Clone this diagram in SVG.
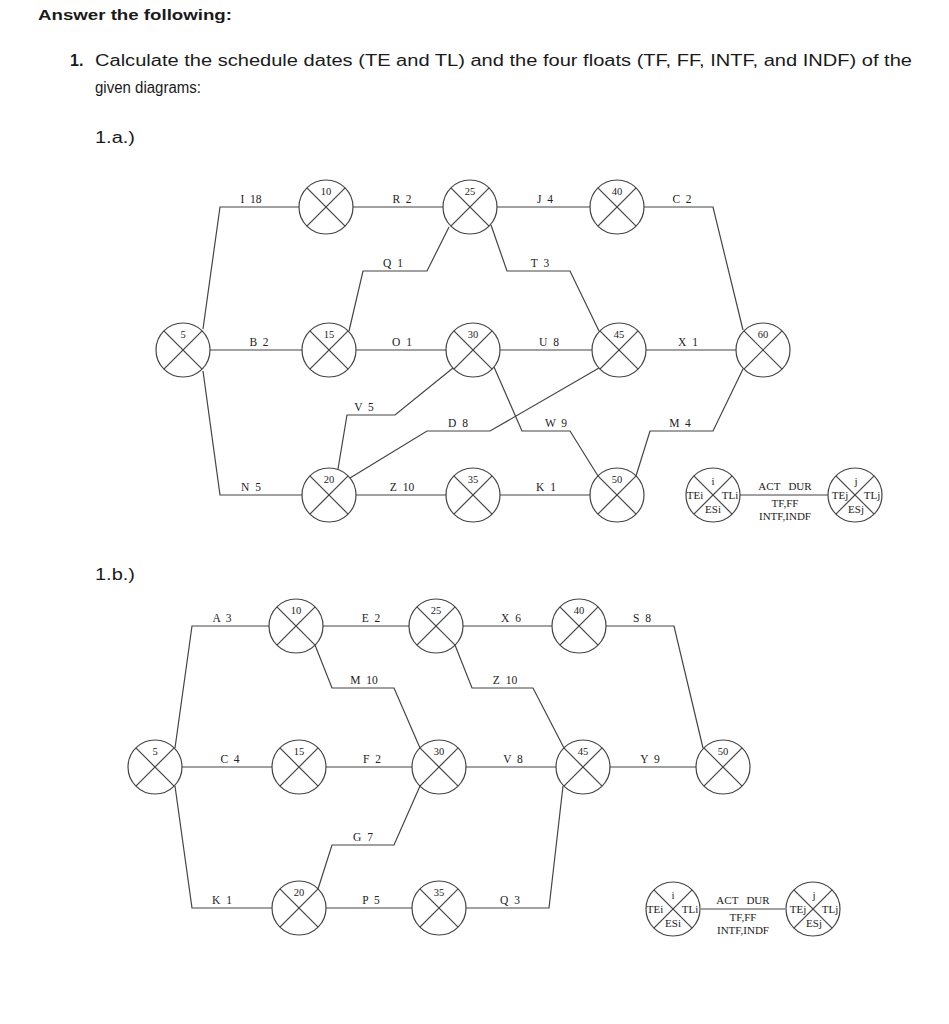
<svg xmlns="http://www.w3.org/2000/svg" xmlns:xlink="http://www.w3.org/1999/xlink" width="949" height="1024" viewBox="0 0 949 1024">
<style>
.hd{font-family:"Liberation Sans","Noto Sans",sans-serif;fill:#1a1a1a}
.hb{font-weight:bold}
.hn{font-size:16px}
.lb{font-family:"Liberation Serif","DejaVu Serif",serif;font-size:11.5px;fill:#222;text-anchor:middle;white-space:pre}
.nn{font-family:"Liberation Serif","DejaVu Serif",serif;font-size:10.5px;fill:#222;text-anchor:middle}
.lg{font-family:"Liberation Serif","DejaVu Serif",serif;font-size:11px;fill:#222;text-anchor:middle;white-space:pre}
.ed{fill:none;stroke:#444;stroke-width:1.2}
.nd circle,.nd line{fill:#fff;stroke:#444;stroke-width:1.2}
</style>
<defs>
<g id="node" class="nd"><circle r="27"/><line x1="-19.1" y1="-19.1" x2="19.1" y2="19.1"/><line x1="19.1" y1="-19.1" x2="-19.1" y2="19.1"/></g>
</defs>
<rect width="949" height="1024" fill="#fff"/>
<g id="header">
<text class="hd hb" x="38" y="20" font-size="15" textLength="194" lengthAdjust="spacingAndGlyphs">Answer the following:</text>
<text class="hd hb hn" x="70" y="66">1.</text>
<text class="hd hn" x="95" y="66" textLength="817" lengthAdjust="spacingAndGlyphs">Calculate the schedule dates (TE and TL) and the four floats (TF, FF, INTF, and INDF) of the</text>
<text class="hd hn" x="95" y="93" textLength="106" lengthAdjust="spacingAndGlyphs">given diagrams:</text>
<text class="hd hn" x="95" y="143" textLength="40" lengthAdjust="spacingAndGlyphs">1.a.)</text>
<text class="hd hn" x="95" y="580" textLength="40" lengthAdjust="spacingAndGlyphs">1.b.)</text>
</g>
<g id="connectors-a">
<path class="ed" d="M203 329 L220 207 L299 207"/>
<path class="ed" d="M353 207 L443 207"/>
<path class="ed" d="M497 207 L590 207"/>
<path class="ed" d="M644 207 L713 207 L743 330"/>
<path class="ed" d="M349 331 L363 271 L427 271 L449 227"/>
<path class="ed" d="M491 225 L507 271 L570 271 L599 331"/>
<path class="ed" d="M210 350 L302 350"/>
<path class="ed" d="M356 350 L446 350"/>
<path class="ed" d="M500 350 L592 350"/>
<path class="ed" d="M646 350 L736 350"/>
<path class="ed" d="M203 371 L220 495 L302 495"/>
<path class="ed" d="M356 495 L446 495"/>
<path class="ed" d="M500 495 L590 495"/>
<path class="ed" d="M338 469 L347 415 L395 415 L453 368"/>
<path class="ed" d="M350 478 L427 431 L490 431 L599 368"/>
<path class="ed" d="M494 367 L522 431 L570 431 L598 476"/>
<path class="ed" d="M636 476 L650 431 L713 431 L743 369"/>
<path class="ed" d="M740 495 L828 495"/>
<text class="lb" x="251" y="203">I  18</text>
<text class="lb" x="402" y="203">R  2</text>
<text class="lb" x="545" y="203">J  4</text>
<text class="lb" x="682" y="203">C  2</text>
<text class="lb" x="393" y="267">Q  1</text>
<text class="lb" x="540" y="267">T  3</text>
<text class="lb" x="259" y="346">B  2</text>
<text class="lb" x="402" y="346">O  1</text>
<text class="lb" x="549" y="346">U  8</text>
<text class="lb" x="688" y="346">X  1</text>
<text class="lb" x="364" y="411">V  5</text>
<text class="lb" x="458" y="427">D  8</text>
<text class="lb" x="556" y="427">W  9</text>
<text class="lb" x="680" y="427">M  4</text>
<text class="lb" x="251" y="491">N  5</text>
<text class="lb" x="402" y="491">Z  10</text>
<text class="lb" x="546" y="491">K  1</text>
<text class="lg" x="785" y="490">ACT   DUR</text>
<text class="lg" x="785" y="507">TF,FF</text>
<text class="lg" x="785" y="520">INTF,INDF</text>
</g>
<g id="a-n5"><use xlink:href="#node" x="183" y="350"/><text class="nn" x="183" y="338">5</text></g>
<g id="a-n10"><use xlink:href="#node" x="326" y="207"/><text class="nn" x="326" y="195">10</text></g>
<g id="a-n25"><use xlink:href="#node" x="470" y="207"/><text class="nn" x="470" y="195">25</text></g>
<g id="a-n40"><use xlink:href="#node" x="617" y="207"/><text class="nn" x="617" y="195">40</text></g>
<g id="a-n15"><use xlink:href="#node" x="329" y="350"/><text class="nn" x="329" y="338">15</text></g>
<g id="a-n30"><use xlink:href="#node" x="473" y="350"/><text class="nn" x="473" y="338">30</text></g>
<g id="a-n45"><use xlink:href="#node" x="619" y="350"/><text class="nn" x="619" y="338">45</text></g>
<g id="a-n60"><use xlink:href="#node" x="763" y="350"/><text class="nn" x="763" y="338">60</text></g>
<g id="a-n20"><use xlink:href="#node" x="329" y="495"/><text class="nn" x="329" y="483">20</text></g>
<g id="a-n35"><use xlink:href="#node" x="473" y="495"/><text class="nn" x="473" y="483">35</text></g>
<g id="a-n50"><use xlink:href="#node" x="617" y="495"/><text class="nn" x="617" y="483">50</text></g>
<g id="a-legend-i"><use xlink:href="#node" x="713" y="495"/><text class="lg" x="713" y="485">i</text><text class="lg" x="695" y="499">TEi</text><text class="lg" x="730" y="499">TLi</text><text class="lg" x="713" y="513">ESi</text></g>
<g id="a-legend-j"><use xlink:href="#node" x="855" y="495"/><text class="lg" x="856" y="485">j</text><text class="lg" x="840" y="499">TEj</text><text class="lg" x="872" y="499">TLj</text><text class="lg" x="856" y="513">ESj</text></g>
<g id="connectors-b">
<path class="ed" d="M175 748 L192 626 L269 626"/>
<path class="ed" d="M323 626 L409 626"/>
<path class="ed" d="M315 645 L332 688 L394 688 L420 748"/>
<path class="ed" d="M463 626 L552 626"/>
<path class="ed" d="M455 645 L472 688 L533 688 L564 748"/>
<path class="ed" d="M606 626 L674 626 L703 748"/>
<path class="ed" d="M182 767 L272 767"/>
<path class="ed" d="M326 767 L412 767"/>
<path class="ed" d="M466 767 L556 767"/>
<path class="ed" d="M610 767 L696 767"/>
<path class="ed" d="M175 786 L192 908 L272 908"/>
<path class="ed" d="M318 889 L332 845 L394 845 L420 786"/>
<path class="ed" d="M326 908 L412 908"/>
<path class="ed" d="M466 908 L549 908 L563 786"/>
<path class="ed" d="M701 909 L785 909"/>
<text class="lb" x="222" y="622">A  3</text>
<text class="lb" x="371" y="622">E  2</text>
<text class="lb" x="511" y="622">X  6</text>
<text class="lb" x="642" y="622">S  8</text>
<text class="lb" x="364" y="684">M  10</text>
<text class="lb" x="505" y="684">Z  10</text>
<text class="lb" x="230" y="763">C  4</text>
<text class="lb" x="372" y="763">F  2</text>
<text class="lb" x="513" y="763">V  8</text>
<text class="lb" x="650" y="763">Y  9</text>
<text class="lb" x="363" y="841">G  7</text>
<text class="lb" x="222" y="904">K  1</text>
<text class="lb" x="371" y="904">P  5</text>
<text class="lb" x="510" y="904">Q  3</text>
<text class="lg" x="743" y="904">ACT   DUR</text>
<text class="lg" x="743" y="921">TF,FF</text>
<text class="lg" x="743" y="934">INTF,INDF</text>
</g>
<g id="b-n5"><use xlink:href="#node" x="155" y="767"/><text class="nn" x="155" y="755">5</text></g>
<g id="b-n10"><use xlink:href="#node" x="296" y="626"/><text class="nn" x="296" y="614">10</text></g>
<g id="b-n25"><use xlink:href="#node" x="436" y="626"/><text class="nn" x="436" y="614">25</text></g>
<g id="b-n40"><use xlink:href="#node" x="579" y="626"/><text class="nn" x="579" y="614">40</text></g>
<g id="b-n15"><use xlink:href="#node" x="299" y="767"/><text class="nn" x="299" y="755">15</text></g>
<g id="b-n30"><use xlink:href="#node" x="439" y="767"/><text class="nn" x="439" y="755">30</text></g>
<g id="b-n45"><use xlink:href="#node" x="583" y="767"/><text class="nn" x="583" y="755">45</text></g>
<g id="b-n50"><use xlink:href="#node" x="723" y="767"/><text class="nn" x="723" y="755">50</text></g>
<g id="b-n20"><use xlink:href="#node" x="299" y="908"/><text class="nn" x="299" y="896">20</text></g>
<g id="b-n35"><use xlink:href="#node" x="439" y="908"/><text class="nn" x="439" y="896">35</text></g>
<g id="b-legend-i"><use xlink:href="#node" x="673" y="909"/><text class="lg" x="673" y="899">i</text><text class="lg" x="655" y="913">TEi</text><text class="lg" x="690" y="913">TLi</text><text class="lg" x="673" y="927">ESi</text></g>
<g id="b-legend-j"><use xlink:href="#node" x="813" y="909"/><text class="lg" x="814" y="899">j</text><text class="lg" x="798" y="913">TEj</text><text class="lg" x="830" y="913">TLj</text><text class="lg" x="814" y="927">ESj</text></g>
</svg>
